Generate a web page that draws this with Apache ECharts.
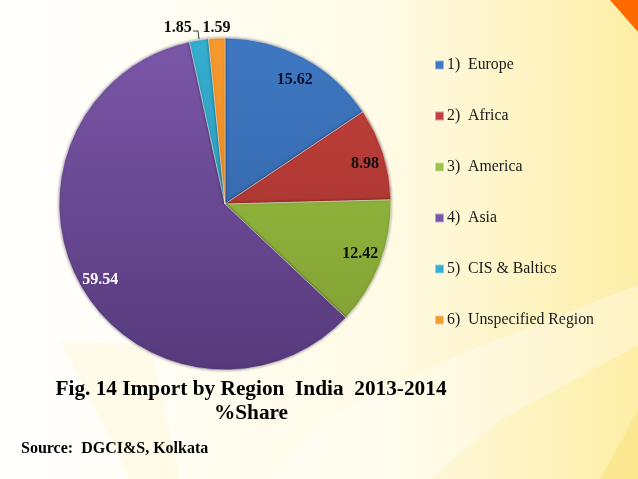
<!DOCTYPE html>
<html>
<head>
<meta charset="utf-8">
<style>
html, body { margin: 0; padding: 0; background: #fff; }
#main { width: 638px; height: 479px; }
</style>
<script src="https://cdn.jsdelivr.net/npm/echarts@6/dist/echarts.min.js"></script>
</head>
<body>
<div id="main"></div>
<script>
var regions = ['1)  Europe', '2)  Africa', '3)  America', '4)  Asia', '5)  CIS & Baltics', '6)  Unspecified Region'];
var shares = [15.62, 8.98, 12.42, 59.54, 1.85, 1.59];
var labels = ['15.62', '8.98', '12.42', '59.54', '1.85', '1.59'];

var topColors = ['#3f78c2', '#c4423c', '#9cc444', '#7b57a8', '#35aecf', '#f79a2e'];
var bottomColors = ['#2f5f9f', '#9c2f2b', '#7f9d32', '#573a7c', '#2a8fae', '#e07f1c'];
var labelColors = ['#0f0f2a', '#0f0f0f', '#0f0f0f', '#ffffff', '#111111', '#111111'];
// nudges from the default label spot in the ring
var labelNudge = [[0, 6], [-1, 5], [-3, -3], [4, 3], [-24, -30], [-1, -28]];

var serif = '"Liberation Serif", serif';
var myChart = echarts.init(document.getElementById('main'));

function sliceColor(i) {
    return new echarts.graphic.LinearGradient(0, 37, 0, 370, [
        { offset: 0, color: topColors[i] },
        { offset: 1, color: bottomColors[i] }
    ], true);
}

var pieData = [];
var labelData = [];
for (var i = 0; i < shares.length; i++) {
    pieData.push({
        name: regions[i],
        value: shares[i],
        itemStyle: { color: sliceColor(i) }
    });
    labelData.push({
        name: regions[i],
        value: shares[i],
        label: { formatter: labels[i], color: labelColors[i] }
    });
}

var option = {
    animation: false,
    backgroundColor: new echarts.graphic.LinearGradient(0, 0, 1, 0, [
        { offset: 0, color: '#ffffff' },
        { offset: 0.6, color: '#fffbe6' },
        { offset: 1, color: '#fdeea6' }
    ]),
    graphic: [
        { type: 'polygon', z: -1, silent: true, shape: { points: [[610, 0], [638, 0], [638, 32]] }, style: { fill: '#ff6a00' } },
        { type: 'polygon', z: -1, silent: true, shape: { points: [[270, 479], [340, 410], [470, 350], [638, 285], [638, 345], [500, 420], [430, 479]] }, style: { fill: 'rgba(255,255,255,0.35)' } },
        { type: 'polygon', z: -1, silent: true, shape: { points: [[60, 340], [150, 345], [180, 479], [130, 479]] }, style: { fill: 'rgba(253,240,180,0.22)' } },
        { type: 'polygon', z: -1, silent: true, shape: { points: [[600, 479], [638, 410], [638, 479]] }, style: { fill: 'rgba(252,226,130,0.6)' } },
        // short leader for the 1.85 label
        { type: 'polyline', z: 5, silent: true, shape: { points: [[193, 31], [198, 31], [199, 39]] }, style: { stroke: '#333', lineWidth: 1, fill: null } }
    ],
    title: [{
        text: 'Fig. 14 Import by Region  India  2013-2014\n%Share',
        left: 251,
        top: 377,
        padding: 0,
        textAlign: 'center',
        textStyle: { fontFamily: serif, fontSize: 21.3, fontWeight: 'bold', color: '#000', lineHeight: 24, align: 'center' }
    }, {
        text: 'Source:  DGCI&S, Kolkata',
        left: 21,
        top: 441,
        padding: 0,
        textStyle: { fontFamily: serif, fontSize: 16, fontWeight: 'bold', color: '#000' }
    }],
    legend: {
        orient: 'vertical',
        left: 429,
        top: 52,
        itemWidth: 9,
        itemHeight: 9,
        itemGap: 35,
        icon: 'rect',
        selectedMode: false,
        textStyle: { fontFamily: serif, fontSize: 15.8, color: '#1a1a1a', padding: [0, 0, 0, -2], height: 16, lineHeight: 16 },
        data: regions
    },
    series: [{
        type: 'pie',
        center: [225, 204],
        radius: [0, 166],
        startAngle: 90,
        clockwise: true,
        silent: true,
        label: { show: false },
        labelLine: { show: false },
        itemStyle: { borderColor: 'rgba(255,255,255,0.45)', borderWidth: 1, shadowBlur: 3, shadowColor: 'rgba(0,0,0,0.45)' },
        data: pieData
    }, {
        // transparent ring so the value labels sit near the outer edge
        type: 'pie',
        center: [225, 204],
        radius: [124, 166],
        startAngle: 90,
        clockwise: true,
        silent: true,
        avoidLabelOverlap: false,
        legendHoverLink: false,
        itemStyle: { color: 'rgba(0,0,0,0)' },
        label: { show: true, position: 'inside', fontFamily: serif, fontSize: 16, fontWeight: 'bold' },
        labelLine: { show: false },
        labelLayout: function (params) {
            var n = labelNudge[params.dataIndex];
            return { dx: n[0], dy: n[1] };
        },
        data: labelData
    }]
};

myChart.setOption(option);
</script>
</body>
</html>
